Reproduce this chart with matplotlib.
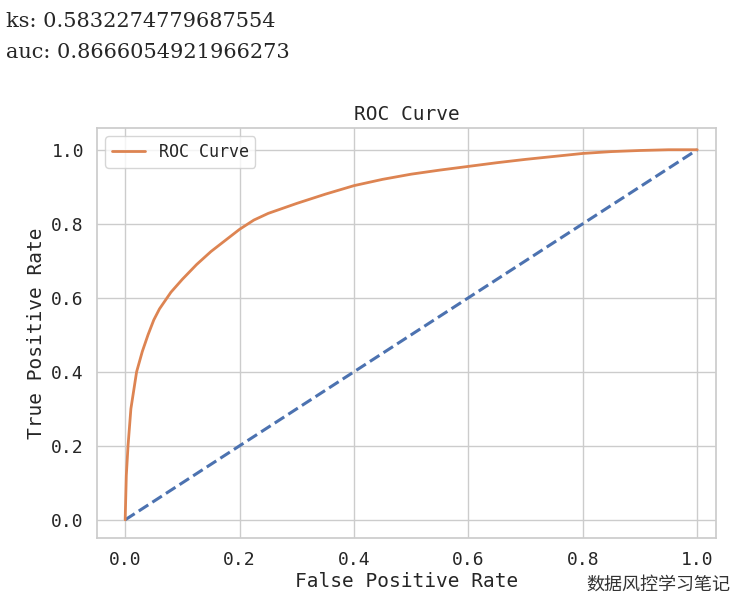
import matplotlib
matplotlib.use('Agg')
import matplotlib.pyplot as plt
import seaborn as sns

sns.set_theme(style='whitegrid')
plt.rcParams['font.family'] = ['DejaVu Sans Mono', 'Noto Sans CJK SC']

fpr = [0, 0.002, 0.005, 0.01, 0.02, 0.03, 0.04, 0.05, 0.06, 0.08, 0.1, 0.125, 0.15,
       0.175, 0.2, 0.225, 0.25, 0.3, 0.35, 0.4, 0.45, 0.5, 0.55, 0.6, 0.65, 0.7,
       0.75, 0.8, 0.85, 0.9, 0.95, 1.0]
tpr = [0, 0.12, 0.2, 0.3, 0.4, 0.455, 0.5, 0.54, 0.57, 0.615, 0.65, 0.69, 0.725,
       0.755, 0.785, 0.81, 0.828, 0.855, 0.88, 0.903, 0.92, 0.934, 0.945, 0.955,
       0.965, 0.974, 0.982, 0.99, 0.995, 0.998, 1.0, 1.0]
ks_text = 'ks: 0.5832274779687554'
auc_text = 'auc: 0.8666054921966273'

fig = plt.figure(figsize=(7.53, 6.12), dpi=100)
ax = fig.add_axes([0.129, 0.121, 0.822, 0.670])
ax.plot([0, 1], [0, 1], '--', color='#4c72b0', lw=2.2)
ax.plot(fpr, tpr, color='#dd8452', lw=2, label='ROC Curve')
ax.set_xlim(-0.049, 1.033)
ax.set_ylim(-0.049, 1.059)
ax.set_title('ROC Curve', fontsize=14)
ax.set_xlabel('False Positive Rate', fontsize=14, labelpad=2)
ax.set_ylabel('True Positive Rate', fontsize=14)
ax.tick_params(labelsize=13)
ax.legend(loc='upper left', fontsize=12)

fig.text(0.008, 0.965, ks_text, fontsize=15, family='DejaVu Serif', va='center')
fig.text(0.008, 0.915, auc_text, fontsize=15, family='DejaVu Serif', va='center')
fig.text(0.97, 0.045, '数据风控学习笔记', fontsize=13, ha='right', va='center',
         color='#333333', family='Noto Sans CJK SC')

fig.savefig('out.png', dpi=100)
